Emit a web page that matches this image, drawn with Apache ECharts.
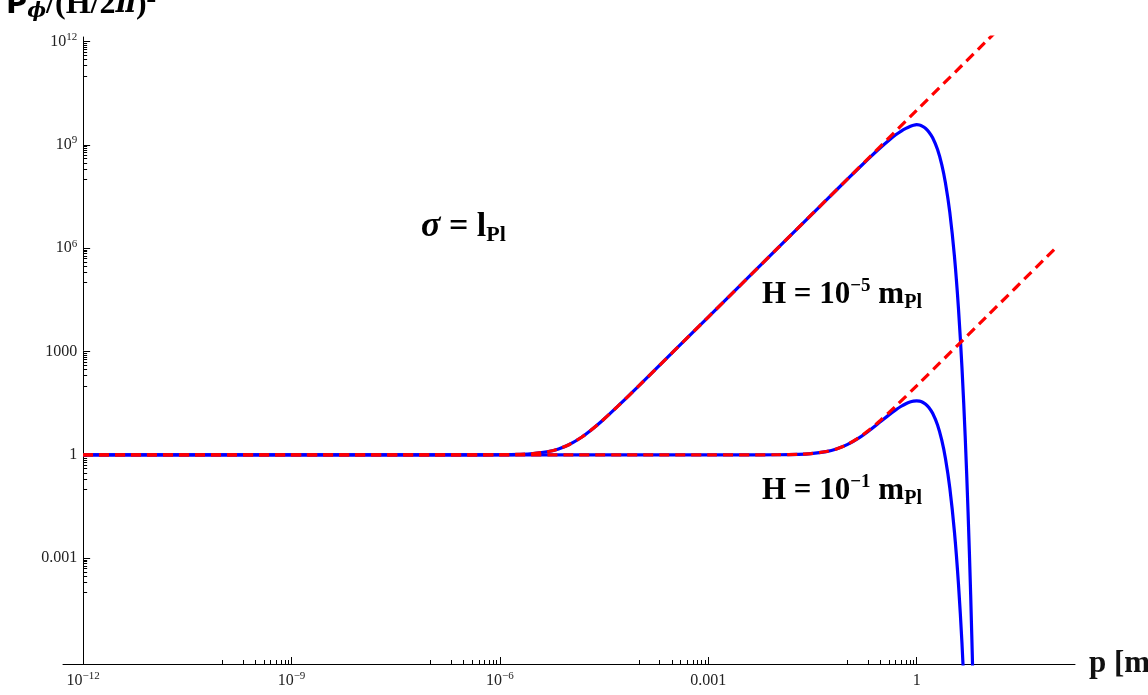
<!DOCTYPE html>
<html><head><meta charset="utf-8">
<script src="https://cdn.jsdelivr.net/npm/echarts@6/dist/echarts.min.js"></script>
<style>html,body{margin:0;padding:0;background:#fff;overflow:hidden}#c{width:1148px;height:695px}</style>
</head><body><div id="c"></div>
<script>
// ---- tick values & labels ----
const xTicks = [1e-12, 1e-9, 1e-6, 1e-3, 1];
const xTickLabels = ['10^−12', '10^−9', '10^−6', '0.001', '1'];
const yTicks = [1e-3, 1, 1e3, 1e6, 1e9, 1e12];
const yTickLabels = ['0.001', '1', '1000', '10^6', '10^9', '10^12'];

// ---- series values ----
// blue solid, H = 1e-5 mPl
const pBlue5 = [1e-12, 1e-8, 1e-7, 3e-7, 1e-6, 2e-6, 3e-6, 5e-6, 7e-6, 1e-5, 1.5e-5, 2e-5, 3e-5, 5e-5, 1e-4, 1e-3, 1e-2, 0.05, 0.1, 0.2, 0.3, 0.4, 0.5, 0.6, 0.7, 0.8, 0.9, 1.0, 1.1, 1.2, 1.35, 1.5, 1.7, 2.0, 2.3, 2.6, 3.0, 3.5, 4.0, 4.5, 5.0, 5.5, 6.0, 6.5];
const vBlue5 = [1, 1, 1, 1.0009, 1.01, 1.04, 1.09, 1.25, 1.49, 2, 3.25, 5, 10, 26, 101, 1.0e4, 1.0e6, 2.49e7, 9.9e7, 3.84e8, 8.23e8, 1.36e9, 1.95e9, 2.51e9, 3.0e9, 3.4e9, 3.7e9, 3.85e9, 3.75e9, 3.5e9, 2.98e9, 2.37e9, 1.61e9, 7.33e8, 2.67e8, 7.8e7, 1.11e7, 5.86e5, 1.8e4, 325, 3.47, 0.022, 8.4e-5, 1.9e-7];
// blue solid, H = 1e-1 mPl
const pBlue1 = [1e-12, 1e-4, 1e-3, 3e-3, 0.01, 0.02, 0.03, 0.05, 0.07, 0.1, 0.15, 0.2, 0.3, 0.4, 0.5, 0.6, 0.7, 0.8, 0.9, 1.0, 1.1, 1.2, 1.35, 1.5, 1.7, 2.0, 2.3, 2.6, 3.0, 3.5, 4.0, 4.5, 5.0];
const vBlue1 = [1, 1, 1, 1.0009, 1.0099, 1.0396, 1.089, 1.247, 1.483, 1.98, 3.18, 4.80, 9.14, 14.5, 20.2, 25.8, 30.6, 34.3, 36.5, 37.2, 36.4, 34.4, 29.6, 23.8, 16.1, 7.35, 2.67, 0.785, 0.111, 5.87e-3, 1.8e-4, 3.25e-6, 3.47e-8];
// red dashed asymptotes
const pRed5 = [1e-12, 1e-7, 1e-6, 2e-6, 3e-6, 5e-6, 7e-6, 1e-5, 1.5e-5, 2e-5, 3e-5, 5e-5, 1e-4, 1e-3, 1e-2, 0.1, 1, 10, 20];
const vRed5 = [1, 1, 1.01, 1.04, 1.09, 1.25, 1.49, 2, 3.25, 5, 10, 26, 101, 1e4, 1e6, 1e8, 1e10, 1e12, 4e12];
const pRed1 = [1e-12, 1e-3, 0.01, 0.02, 0.03, 0.05, 0.07, 0.1, 0.15, 0.2, 0.3, 0.5, 1, 10, 100];
const vRed1 = [1, 1, 1.01, 1.04, 1.09, 1.25, 1.49, 2, 3.25, 5, 10, 26, 101, 1e4, 1e6];

function zip(a, b) { return a.map((v, i) => [v, b[i]]); }
function minorOf(majors) {
  const out = [];
  majors.forEach(m => { for (let k = 1; k <= 9; k++) out.push(k * m / 10); });
  return out;
}
function richLabel(s) {
  const i = s.indexOf('^');
  if (i < 0) return '{b|' + s + '}';
  return '{b|' + s.slice(0, i) + '}{s|' + s.slice(i + 1) + '}';
}
function fmt(ticks, labels) {
  return function (v) {
    for (let i = 0; i < ticks.length; i++) {
      if (Math.abs(Math.log10(v) - Math.log10(ticks[i])) < 0.01) return richLabel(labels[i]);
    }
    return '';
  };
}

const FONT = '"Liberation Serif", "DejaVu Serif", serif';
const tickRich = {
  b: { fontFamily: FONT, fontSize: 16, color: '#222', lineHeight: 20 },
  s: { fontFamily: FONT, fontSize: 11, color: '#222', lineHeight: 12, verticalAlign: 'top' }
};
const xMin = Math.pow(10, -12.29), xMax = Math.pow(10, 2.28);
const yMin = Math.pow(10, -6.07), yMax = Math.pow(10, 12.13);
const Y_OFF = -20.14;

const chart = echarts.init(document.getElementById('c'), null, { renderer: 'canvas' });
const textRich = {
  b: { fontFamily: FONT, fontWeight: 'bold', fontSize: 31, color: '#111', lineHeight: 36 },
  i: { fontFamily: FONT, fontWeight: 'bold', fontStyle: 'italic', fontSize: 31, color: '#111', lineHeight: 36 },
  s: { fontFamily: FONT, fontWeight: 'bold', fontSize: 19, color: '#111', lineHeight: 22, verticalAlign: 'top' },
  d: { fontFamily: FONT, fontWeight: 'bold', fontSize: 20, color: '#111', lineHeight: 24, verticalAlign: 'bottom' }
};
const sigmaRich = {
  b: { fontFamily: FONT, fontWeight: 'bold', fontSize: 34, color: '#111', lineHeight: 38 },
  i: { fontFamily: FONT, fontWeight: 'bold', fontStyle: 'italic', fontSize: 36, color: '#111', lineHeight: 38 },
  d: { fontFamily: FONT, fontWeight: 'bold', fontSize: 22, color: '#111', lineHeight: 26, verticalAlign: 'bottom' }
};
chart.setOption({
  animation: false,
  backgroundColor: '#fff',
  grid: { left: 63, right: 73, top: 37, bottom: 31, containLabel: false, outerBoundsMode: 'none' },
  xAxis: [{
    type: 'log', logBase: 10, min: xMin, max: xMax, position: 'bottom',
    axisLine: { show: true, onZero: false, lineStyle: { color: '#000', width: 1 } },
    axisTick: { show: true, inside: true, length: 7, customValues: xTicks, lineStyle: { color: '#000', width: 1 } },
    axisLabel: { show: true, customValues: xTicks, margin: 7, formatter: fmt(xTicks, xTickLabels), rich: tickRich },
    minorTick: { show: false }, splitLine: { show: false },
    name: '{a|p [m}{d|Pl}{a|]}', nameLocation: 'end', nameGap: 14,
    nameTextStyle: { rich: {
      a: { fontFamily: FONT, fontWeight: 'bold', fontSize: 31, color: '#111', lineHeight: 36 },
      d: { fontFamily: FONT, fontWeight: 'bold', fontSize: 20, color: '#111', lineHeight: 24, verticalAlign: 'bottom' }
    } }
  }, {
    type: 'log', logBase: 10, min: xMin, max: xMax, position: 'bottom',
    axisLine: { show: false, onZero: false },
    axisTick: { show: true, inside: true, length: 4, customValues: minorOf(xTicks.slice(1)), lineStyle: { color: '#000', width: 1 } },
    axisLabel: { show: false }, minorTick: { show: false }, splitLine: { show: false }
  }],
  yAxis: [{
    type: 'log', logBase: 10, min: yMin, max: yMax, position: 'left', offset: Y_OFF,
    axisLine: { show: true, onZero: false, lineStyle: { color: '#000', width: 1 } },
    axisTick: { show: true, inside: true, length: 7, customValues: yTicks, lineStyle: { color: '#000', width: 1 } },
    axisLabel: { show: true, customValues: yTicks, margin: 6, formatter: fmt(yTicks, yTickLabels), rich: tickRich },
    minorTick: { show: false }, splitLine: { show: false }
  }, {
    type: 'log', logBase: 10, min: yMin, max: yMax, position: 'left', offset: Y_OFF,
    axisLine: { show: false, onZero: false },
    axisTick: { show: true, inside: true, length: 4, customValues: minorOf(yTicks), lineStyle: { color: '#000', width: 1 } },
    axisLabel: { show: false }, minorTick: { show: false }, splitLine: { show: false }
  }],
  series: [
    { type: 'line', name: 'H=1e-5', xAxisIndex: 0, yAxisIndex: 0, data: zip(pBlue5, vBlue5), showSymbol: false, smooth: 0.3, clip: true,
      lineStyle: { color: '#0000ff', width: 3.2 }, z: 2 },
    { type: 'line', name: 'H=1e-1', xAxisIndex: 0, yAxisIndex: 0, data: zip(pBlue1, vBlue1), showSymbol: false, smooth: 0.3, clip: true,
      lineStyle: { color: '#0000ff', width: 3.2 }, z: 2 },
    { type: 'line', name: 'asym 1e-5', xAxisIndex: 0, yAxisIndex: 0, data: zip(pRed5, vRed5), showSymbol: false, smooth: 0.3, clip: true,
      lineStyle: { color: '#ff0000', width: 3.2, type: [10, 6] }, z: 3 },
    { type: 'line', name: 'asym 1e-1', xAxisIndex: 0, yAxisIndex: 0, data: zip(pRed1, vRed1), showSymbol: false, smooth: 0.3, clip: true,
      lineStyle: { color: '#ff0000', width: 3.2, type: [10, 6] }, z: 3 }
  ],
  graphic: [
    { type: 'text', left: 6, top: -12, z: 10, style: { text: '{p|P}{d|ϕ}{b|/(H/2}{i|π}{b|)}{s|2}', rich: {
      p: { fontFamily: '"DejaVu Sans", sans-serif', fontWeight: 'bold', fontSize: 29, color: '#111', lineHeight: 34 },
      b: { fontFamily: FONT, fontWeight: 'bold', fontSize: 32, color: '#111', lineHeight: 34 },
      i: { fontFamily: '"DejaVu Serif", serif', fontWeight: 'bold', fontStyle: 'italic', fontSize: 28, color: '#111', lineHeight: 34 },
      s: textRich.s,
      d: { fontFamily: '"DejaVu Serif", serif', fontStyle: 'italic', fontWeight: 'bold', fontSize: 20, color: '#111', lineHeight: 22, verticalAlign: 'bottom' }
    } } },
    { type: 'text', left: 421, top: 209, z: 10, style: { text: '{i|σ}{b| = l}{d|Pl}', rich: sigmaRich } },
    { type: 'text', left: 762, top: 277, z: 10, style: { text: '{b|H = 10}{s|−5}{b| m}{d|Pl}', rich: textRich } },
    { type: 'text', left: 762, top: 473, z: 10, style: { text: '{b|H = 10}{s|−1}{b| m}{d|Pl}', rich: textRich } }
  ]
});
</script></body></html>
